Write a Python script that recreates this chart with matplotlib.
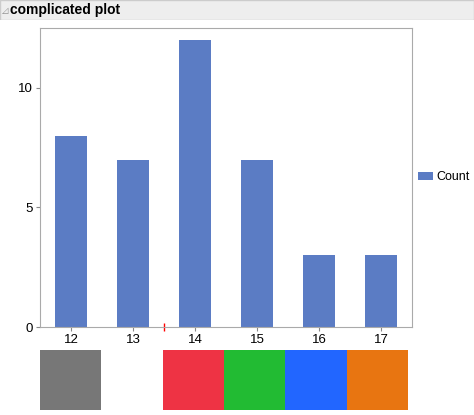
import matplotlib
matplotlib.use("Agg")
import matplotlib.pyplot as plt
from matplotlib.patches import Rectangle

categories = ["12", "13", "14", "15", "16", "17"]
counts = [8, 7, 12, 7, 3, 3]
swatch_colors = ["#777777", "#ffffff", "#ee3344", "#22bb33", "#2266ff", "#e87511"]
bar_color = "#5b7cc4"

plt.rcParams["font.family"] = ["Liberation Sans", "DejaVu Sans"]
W, H = 474, 415
fig = plt.figure(figsize=(W/100, H/100), dpi=100)

tb = fig.add_axes([0, 1-20/H, 1, 20/H])
tb.set_xlim(0, 1); tb.set_ylim(0, 1); tb.axis("off")
tb.add_patch(Rectangle((0, 0), 1, 1, facecolor="#eeeeee", edgecolor="#cccccc", lw=1))
tb.text(10/W, 0.5, "complicated plot", fontweight="bold", fontsize=10, va="center", ha="left")
tb.text(1/W, 0.45, "◿", fontsize=6, va="center", ha="left", color="#888888", family="DejaVu Sans")

ax = fig.add_axes([40/W, 1-327/H, (412-40)/W, (327-28)/H])
x = range(len(categories))
ax.bar(x, counts, width=0.53, color=bar_color, label="Count")
ax.set_xlim(-0.5, 5.5)
ax.set_ylim(0, 12.5)
ax.set_yticks([0, 5, 10])
ax.set_xticks(list(x))
ax.set_xticklabels(categories)
ax.tick_params(labelsize=9.5, length=3, color="#888888", pad=2)
for s in ax.spines.values():
    s.set_color("#aaaaaa")
ax.plot([1.5], [0], marker="|", color="red", markersize=6, clip_on=False)
ax.legend(loc="center left", bbox_to_anchor=(0.995, 0.5), frameon=False, fontsize=9,
          handlelength=1.2, handletextpad=0.3, borderaxespad=0.2)

sw = fig.add_axes([40/W, 1-410/H, (408-40)/W, 60/H])
sw.set_xlim(0, len(swatch_colors)); sw.set_ylim(0, 1); sw.axis("off")
for i, c in enumerate(swatch_colors):
    sw.add_patch(Rectangle((i, 0), 1, 1, facecolor=c, edgecolor="none"))

fig.savefig("out.png", dpi=100)
